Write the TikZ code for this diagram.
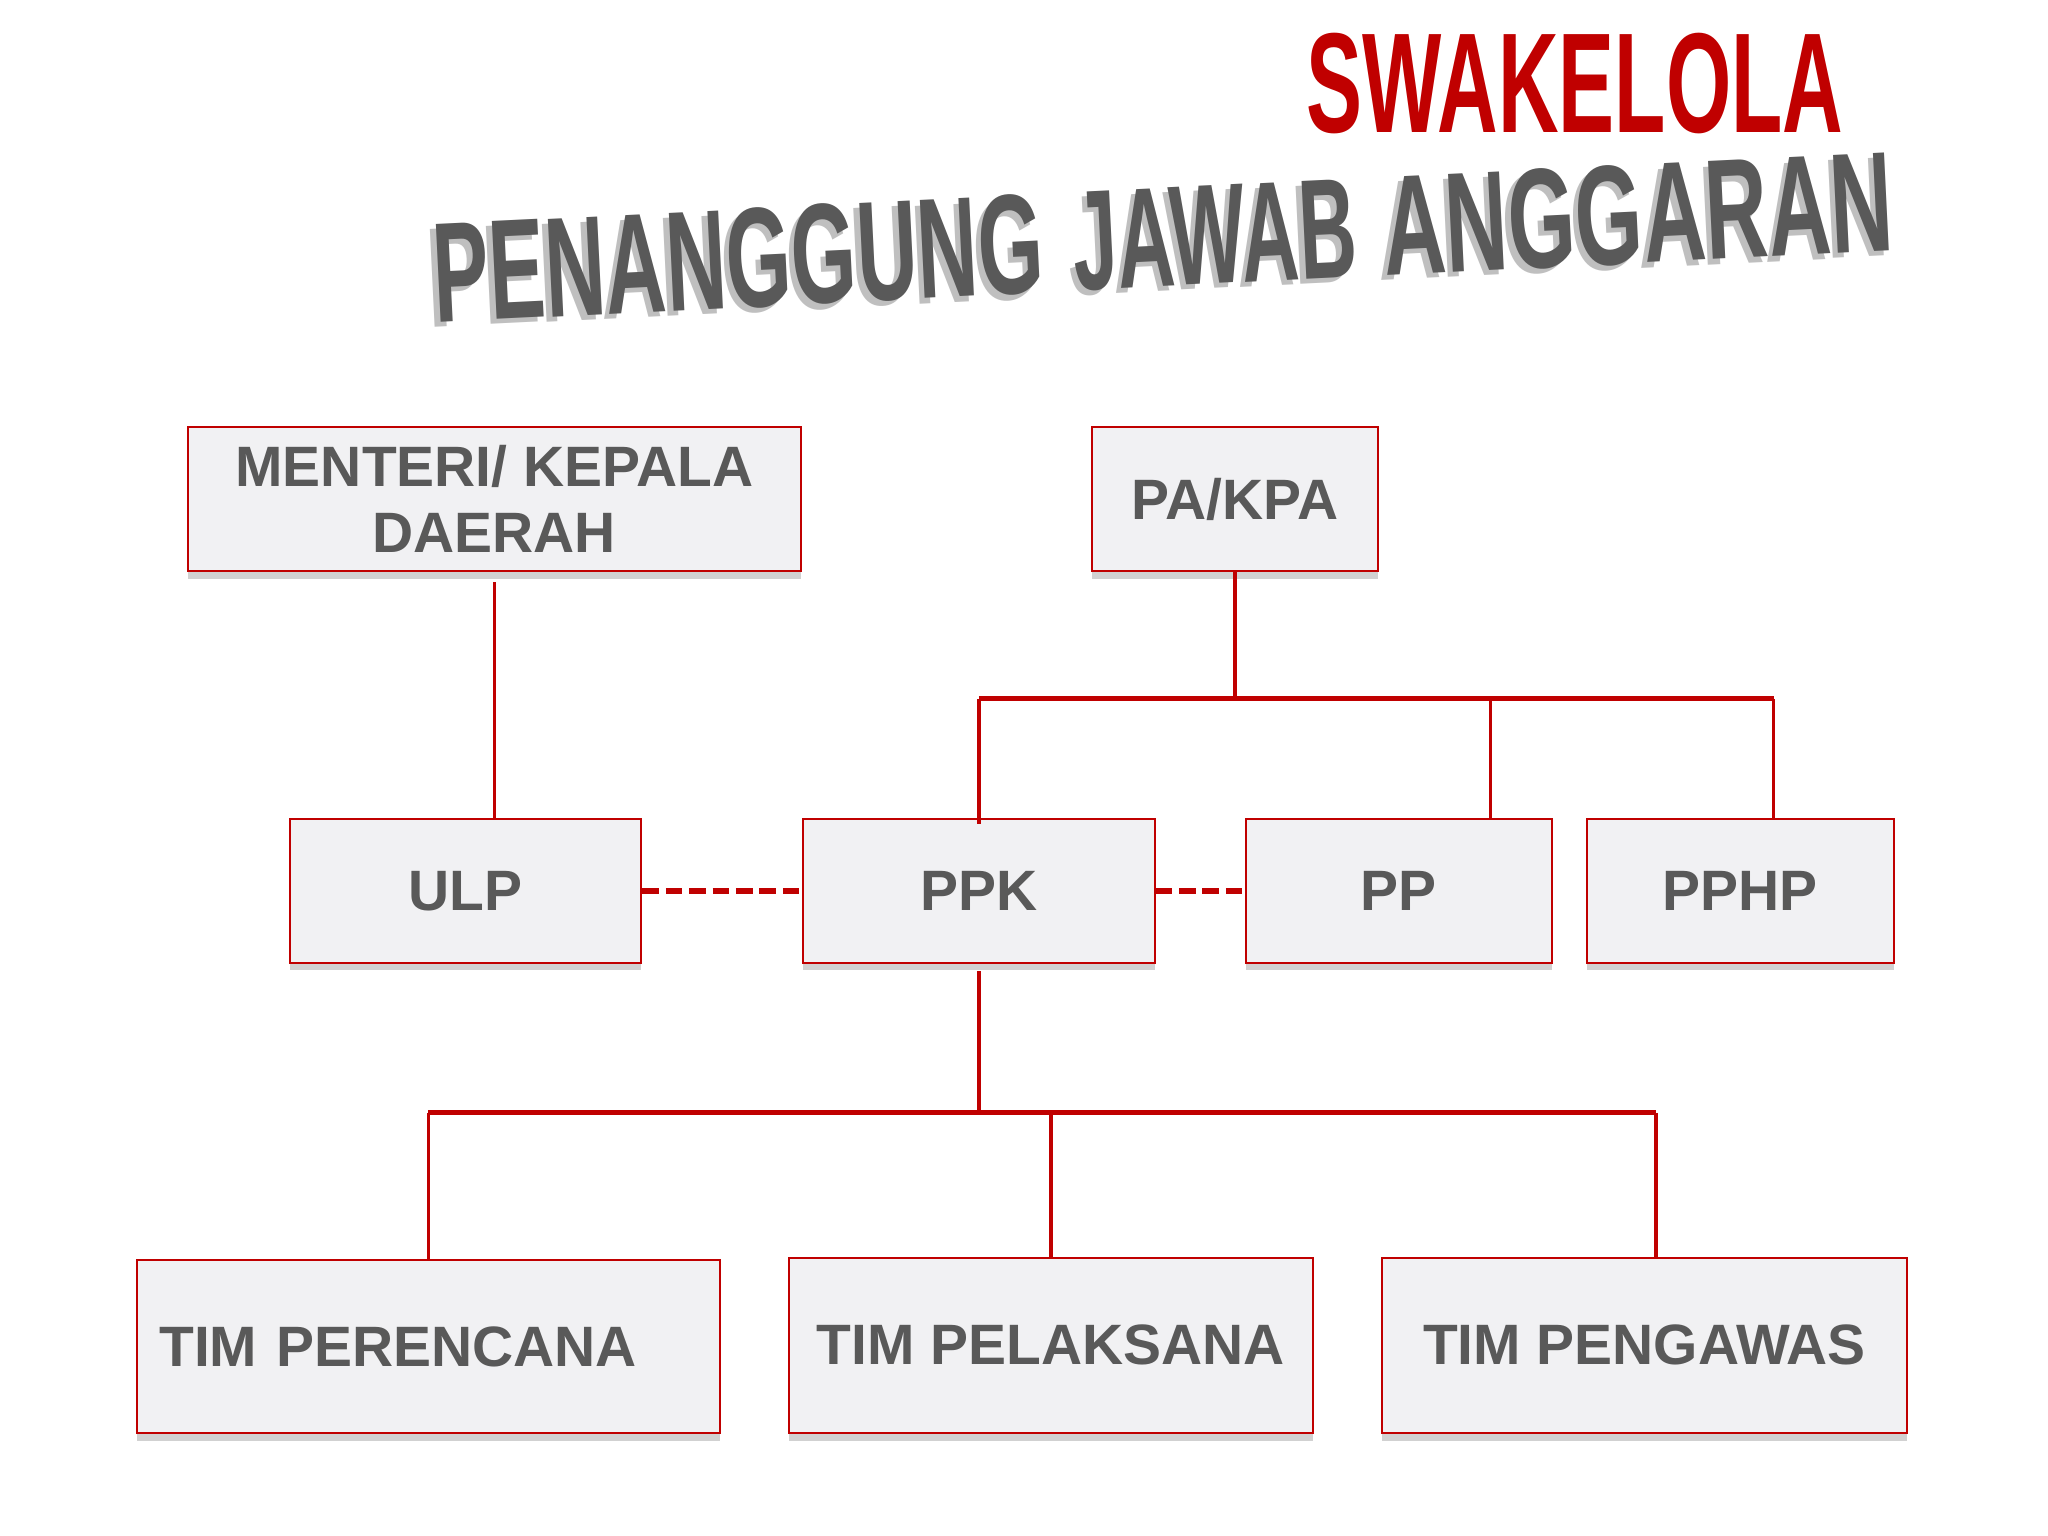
\documentclass[tikz,border=0pt]{standalone}
\usepackage{fontspec}
\setmainfont{Liberation Sans}
\newfontfamily\condA{Liberation Sans}[FakeStretch=0.59]
\newfontfamily\condB{Liberation Sans}[FakeStretch=0.56]
\newfontfamily\condC{Liberation Sans}[FakeStretch=0.61]
\usetikzlibrary{shadows}
\definecolor{linered}{HTML}{C00000}
\definecolor{boxfill}{HTML}{F1F1F3}
\definecolor{txtgrey}{HTML}{595959}
\definecolor{titlered}{HTML}{C00000}
\tikzset{
  orgbox/.style={draw=linered, line width=0.45pt, fill=boxfill, text=txtgrey,
    font=\fontsize{12.4}{14.5}\selectfont\bfseries, inner sep=0pt, align=center,
    drop shadow={shadow xshift=0mm, shadow yshift=-0.6mm, fill=black!18, opacity=1}},
  conn/.style={draw=linered, line width=0.75pt},
  bus/.style={draw=linered, line width=1.1pt},
  dashconn/.style={draw=linered, line width=1.3pt, dash pattern=on 3.6pt off 1.5pt},
  bigtitle/.style={inner sep=0pt},
  tword/.style={bigtitle, text=txtgrey, rotate=2.8},
  twordshadow/.style={bigtitle, text=black!25, rotate=2.8}
}
\newcommand{\tsize}{\fontsize{31}{31}\selectfont\bfseries}
\begin{document}
\begin{tikzpicture}[x=0.1mm, y=-0.1mm]
\useasboundingbox (0,0) rectangle (1568,1176);
\fill[white] (0,0) rectangle (1568,1176);

% titles
\node[bigtitle, text=titlered, font=\condA\tsize] (swa) at (1206,64) {SWAKELOLA};
\node[twordshadow, font=\condA\tsize] (w1s) at (561,202) {PENANGGUNG};
\node[twordshadow, font=\condB\tsize] (w2s) at (926,184) {JAWAB};
\node[twordshadow, font=\condC\tsize] (w3s) at (1250,168) {ANGGARAN};
\node[tword, font=\condA\tsize] (w1) at (565,198) {PENANGGUNG};
\node[tword, font=\condB\tsize] (w2) at (930,180) {JAWAB};
\node[tword, font=\condC\tsize] (w3) at (1254,164) {ANGGARAN};

% boxes
\node[orgbox, minimum width=46.9mm, minimum height=11mm] (menteri) at (378.5,382) {MENTERI/ KEPALA\\DAERAH};
\node[orgbox, minimum width=21.9mm, minimum height=11mm] (pakpa) at (945.5,382) {PA/KPA};
\node[orgbox, minimum width=26.9mm, minimum height=11mm] (ulp) at (356.5,682) {ULP};
\node[orgbox, minimum width=26.9mm, minimum height=11mm] (ppk) at (749.5,682) {PPK};
\node[orgbox, minimum width=23.4mm, minimum height=11mm] (pp) at (1071,682) {PP};
\node[orgbox, minimum width=23.5mm, minimum height=11mm] (pphp) at (1332.5,682) {PPHP};
\node[orgbox, text width=41.2mm, inner xsep=1.7mm, align=left, minimum height=13.2mm] (timper) at (328,1031) {TIM PERENCANA};
\node[orgbox, minimum width=40.1mm, minimum height=13.4mm] (timpel) at (804.5,1030) {TIM PELAKSANA};
\node[orgbox, minimum width=40.2mm, minimum height=13.4mm] (timpeng) at (1259,1030) {TIM PENGAWAS};

% bus coordinates
\coordinate (busA) at (0,535);
\coordinate (busB) at (0,852);
\coordinate (ppT) at (1141,627);
\coordinate (pphpT) at (1358,627);
\coordinate (perT) at (328,965);
\coordinate (pengT) at (1268,963);

% connectors upper
\draw[conn] ([yshift=-0.8mm]menteri.south) -- (menteri.south |- ulp.north);
\draw[conn] (pakpa.south) -- (pakpa.south |- busA);
\draw[bus] (ppk.north |- busA) -- (pphpT |- busA);
\draw[conn] (ppk.north |- busA) -- ([yshift=-0.5mm]ppk.north);
\draw[conn] (ppT |- busA) -- (ppT);
\draw[conn] (pphpT |- busA) -- (pphpT);
\draw[dashconn] (ulp.east) -- (ppk.west);
\draw[dashconn] (ppk.east) -- (pp.west);

% connectors lower
\draw[conn] ([yshift=-0.6mm]ppk.south) -- (ppk.south |- busB);
\draw[bus] (perT |- busB) -- (pengT |- busB);
\draw[conn] (perT |- busB) -- (perT);
\draw[conn] (timpel.north |- busB) -- (timpel.north);
\draw[conn] (pengT |- busB) -- (pengT);
\end{tikzpicture}
\end{document}
